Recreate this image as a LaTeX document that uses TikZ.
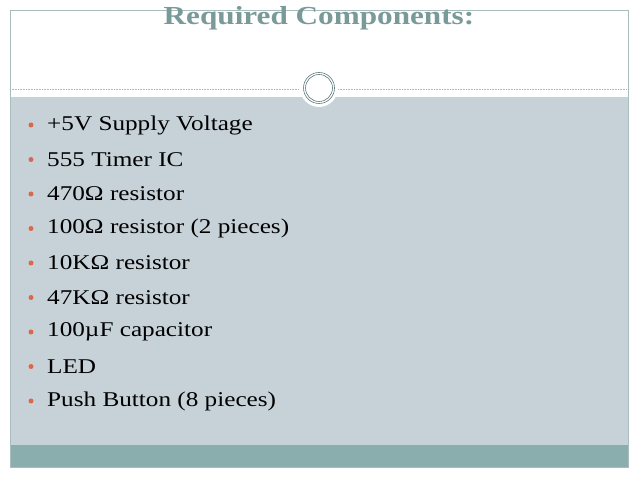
\documentclass[tikz,border=0pt]{standalone}
\usepackage{fontspec}
\setmainfont{Liberation Serif}[FakeStretch=1.2]
\definecolor{titlec}{HTML}{7A9A9A}
\definecolor{panel}{HTML}{C6D1D8}
\definecolor{strip}{HTML}{8AADAD}
\definecolor{bul}{HTML}{D9694A}
\definecolor{linec}{HTML}{A9BDBD}
\tikzset{item/.style={anchor=west,inner sep=0pt,font=\fontsize{21}{24}\selectfont},
bulletdot/.style={circle,fill=bul,inner sep=0pt,minimum size=5pt}}
\begin{document}
\begin{tikzpicture}[x=1pt,y=-1pt]
\useasboundingbox (0,0) rectangle (638,478);
\fill[white] (0,0) rectangle (638,478);
\fill[panel] (10,97) rectangle (628,445);
\fill[strip] (10,445) rectangle (628,467);
\draw[linec,line width=0.6pt] (10,10) rectangle (628,467);
\draw[linec,line width=0.6pt,densely dotted] (10,89) -- (628,89);
\fill[white] (319,88) circle (19);
\draw[titlec!80!black,line width=0.6pt] (319,88) circle (15.5);
\draw[titlec!80!black,line width=0.6pt] (319,88) circle (13.5);
\node[font=\bfseries\fontsize{26}{30}\selectfont,text=titlec] (title) at (319,18) {Required Components:};
\foreach \t [count=\i] in {{+5V Supply Voltage},{555 Timer IC},{470Ω resistor},{100Ω resistor (2 pieces)},{10KΩ resistor},{47KΩ resistor},{100µF capacitor},{LED},{Push Button (8 pieces)}}{
  \pgfmathsetmacro\yy{125+34.5*(\i-1)}
  \node[bulletdot] (b\i) at (31,\yy) {};
  \node[item] (t\i) at (47,\yy) {\t};
}
\end{tikzpicture}
\end{document}
